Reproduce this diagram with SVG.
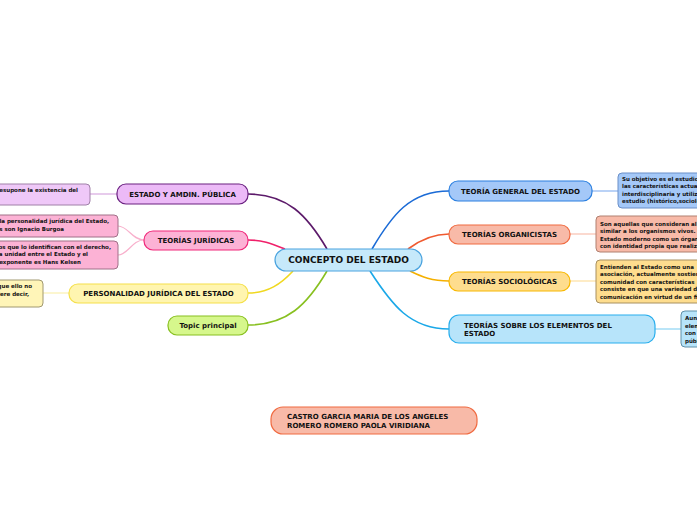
<svg xmlns="http://www.w3.org/2000/svg" width="697" height="520" viewBox="0 0 697 520">
<style>
.t{font-family:"DejaVu Sans",Verdana,sans-serif;font-weight:bold;font-size:7px;fill:#111}
.c{font-family:"DejaVu Sans",Verdana,sans-serif;font-weight:bold;font-size:9px;fill:#111}
.s{font-family:"DejaVu Sans",Verdana,sans-serif;font-weight:bold;font-size:5.5px;fill:#111}
.m{text-anchor:middle}
.e{text-anchor:end}
.cn{fill:none;stroke-width:1.6}
.sc{fill:none;stroke-width:1.2}
</style>
<rect width="697" height="520" fill="#ffffff"/>
<g id="connectors">
<path class="cn" stroke="#1b6bd6" d="M372,249 C392,215 410,191 449,191"/>
<path class="cn" stroke="#f05a30" d="M408,249 C420,240 432,234 449,234"/>
<path class="cn" stroke="#f5b000" d="M410,271 C422,277 432,281 449,281"/>
<path class="cn" stroke="#1aa8e8" d="M370,271 C392,305 410,329 449,329"/>
<path class="cn" stroke="#5c1a6a" d="M327,249 C307,215 287,194 248,194"/>
<path class="cn" stroke="#f0206a" d="M285,249 C270,243 262,240 248,240"/>
<path class="cn" stroke="#f0d820" d="M293,271 C281,284 268,293 248,293"/>
<path class="cn" stroke="#88c020" d="M327,271 C307,305 287,325 248,325"/>
<path class="sc" stroke="#8cb4f0" d="M592,191 L618,191"/>
<path class="sc" stroke="#f8c0b0" d="M570,234 L596,234"/>
<path class="sc" stroke="#fde0a0" d="M570,281 L596,281"/>
<path class="sc" stroke="#8cd4f4" d="M655,329 L681,329"/>
<path class="sc" stroke="#d8a8e0" d="M117,194 L90,194"/>
<path class="sc" stroke="#f8b0cc" d="M144,240 C132,240 128,226 118,226 M144,240 C132,240 128,255 118,255"/>
<path class="sc" stroke="#fbf0b0" d="M69,293 L43,293"/>
</g>
<g id="central">
<rect x="275" y="249" width="147" height="22" rx="11" fill="#c6e9fa" stroke="#4aa3df" stroke-width="1.2"/>
<text class="c m" x="348.5" y="263.2">CONCEPTO DEL ESTADO</text>
</g>
<g id="teoria-general">
<rect x="449" y="181" width="143" height="20" rx="9" fill="#a4c8f8" stroke="#2a7fe0" stroke-width="1.2"/>
<text class="t m" x="520.5" y="193.6">TEORÍA GENERAL DEL ESTADO</text>
</g>
<g id="teoria-general-detalle">
<rect x="618" y="173" width="100" height="35" rx="4" fill="#a4c8f8" stroke="#6a8fc8" stroke-width="1"/>
<text class="s" x="622" y="180.5">Su objetivo es el estudio</text>
<text class="s" x="622" y="188">las características actuales</text>
<text class="s" x="622" y="195.5">interdisciplinaria y utiliza</text>
<text class="s" x="622" y="203">estudio (histórico,sociológico</text>
</g>
<g id="organicistas">
<rect x="449" y="225" width="121" height="19" rx="9" fill="#f8baa8" stroke="#f06a40" stroke-width="1.2"/>
<text class="t m" x="509.5" y="237">TEORÍAS ORGANICISTAS</text>
</g>
<g id="organicistas-detalle">
<rect x="596" y="216" width="120" height="36" rx="4" fill="#f8baa8" stroke="#b08070" stroke-width="1"/>
<text class="s" x="600" y="225.5">Son aquellas que consideran al</text>
<text class="s" x="600" y="233">similar a los organismos vivos.</text>
<text class="s" x="600" y="240.5">Estado moderno como un órgano</text>
<text class="s" x="600" y="248">con identidad propia que realiza</text>
</g>
<g id="sociologicas">
<rect x="449" y="272" width="121" height="19" rx="9" fill="#fedd8e" stroke="#f8b800" stroke-width="1.2"/>
<text class="t m" x="509.5" y="284">TEORÍAS SOCIOLÓGICAS</text>
</g>
<g id="sociologicas-detalle">
<rect x="596" y="260" width="120" height="43" rx="4" fill="#fedd8e" stroke="#a89060" stroke-width="1"/>
<text class="s" x="600" y="268.5">Entienden al Estado como una</text>
<text class="s" x="600" y="276">asociación, actualmente sostiene</text>
<text class="s" x="600" y="283.5">comunidad con características</text>
<text class="s" x="600" y="291">consiste en que una variedad de</text>
<text class="s" x="600" y="298.5">comunicación en virtud de un fin</text>
</g>
<g id="elementos">
<rect x="449" y="315" width="206" height="28" rx="10" fill="#b7e4fa" stroke="#28aeed" stroke-width="1.2"/>
<text class="t" x="464" y="328">TEORÍAS SOBRE LOS ELEMENTOS DEL</text>
<text class="t" x="464" y="336.3">ESTADO</text>
</g>
<g id="elementos-detalle">
<rect x="681" y="311" width="40" height="36" rx="4" fill="#b7e4fa" stroke="#6090a8" stroke-width="1"/>
<text class="s" x="685" y="320">Aunque</text>
<text class="s" x="685" y="327.5">elementos</text>
<text class="s" x="685" y="335">con</text>
<text class="s" x="685" y="342.5">público</text>
</g>
<g id="estado-admin">
<rect x="117" y="184" width="131" height="20" rx="9" fill="#ecbaf7" stroke="#6a2080" stroke-width="1.2"/>
<text class="t m" x="182.5" y="196.6">ESTADO Y AMDIN. PÚBLICA</text>
</g>
<g id="estado-admin-detalle">
<rect x="-40" y="184" width="130" height="21" rx="4" fill="#efc8f8" stroke="#a080a8" stroke-width="1"/>
<text class="s e" x="78" y="191.5">presupone la existencia del</text>
</g>
<g id="juridicas">
<rect x="144" y="231" width="104" height="19" rx="9" fill="#fcb2d5" stroke="#f0287a" stroke-width="1.2"/>
<text class="t m" x="196" y="243">TEORÍAS JURÍDICAS</text>
</g>
<g id="juridicas-detalle-1">
<rect x="-40" y="215" width="158" height="22" rx="4" fill="#fcb2d5" stroke="#a07088" stroke-width="1"/>
<text class="s e" x="109" y="223">la personalidad jurídica del Estado,</text>
<text class="s e" x="64" y="230.5">es son Ignacio Burgoa</text>
</g>
<g id="juridicas-detalle-2">
<rect x="-40" y="241" width="158" height="28" rx="4" fill="#fcb2d5" stroke="#a07088" stroke-width="1"/>
<text class="s e" x="111" y="248.5">todos que lo identifican con el derecho,</text>
<text class="s e" x="88" y="256">la unidad entre el Estado y el</text>
<text class="s e" x="81" y="263.5">exponente es Hans Kelsen</text>
</g>
<g id="personalidad">
<rect x="69" y="284" width="179" height="19" rx="9" fill="#fff5b0" stroke="#f5e04a" stroke-width="1.2"/>
<text class="t m" x="158.5" y="296">PERSONALIDAD JURÍDICA DEL ESTADO</text>
</g>
<g id="personalidad-detalle">
<rect x="-40" y="280" width="83" height="27" rx="4" fill="#fff5b8" stroke="#a09870" stroke-width="1"/>
<text class="s e" x="32" y="288">que ello no</text>
<text class="s e" x="29" y="295.5">quiere decir,</text>
</g>
<g id="topic-principal">
<rect x="168" y="316" width="80" height="19" rx="9" fill="#d6f78c" stroke="#88c020" stroke-width="1.2"/>
<text class="t m" x="208" y="328">Topic principal</text>
</g>
<g id="autores">
<rect x="271" y="407" width="206" height="27" rx="12" fill="#f8baa8" stroke="#f06a40" stroke-width="1.2"/>
<text class="t" x="287" y="419">CASTRO GARCIA MARIA DE LOS ANGELES</text>
<text class="t" x="287" y="428">ROMERO ROMERO PAOLA VIRIDIANA</text>
</g>
</svg>
